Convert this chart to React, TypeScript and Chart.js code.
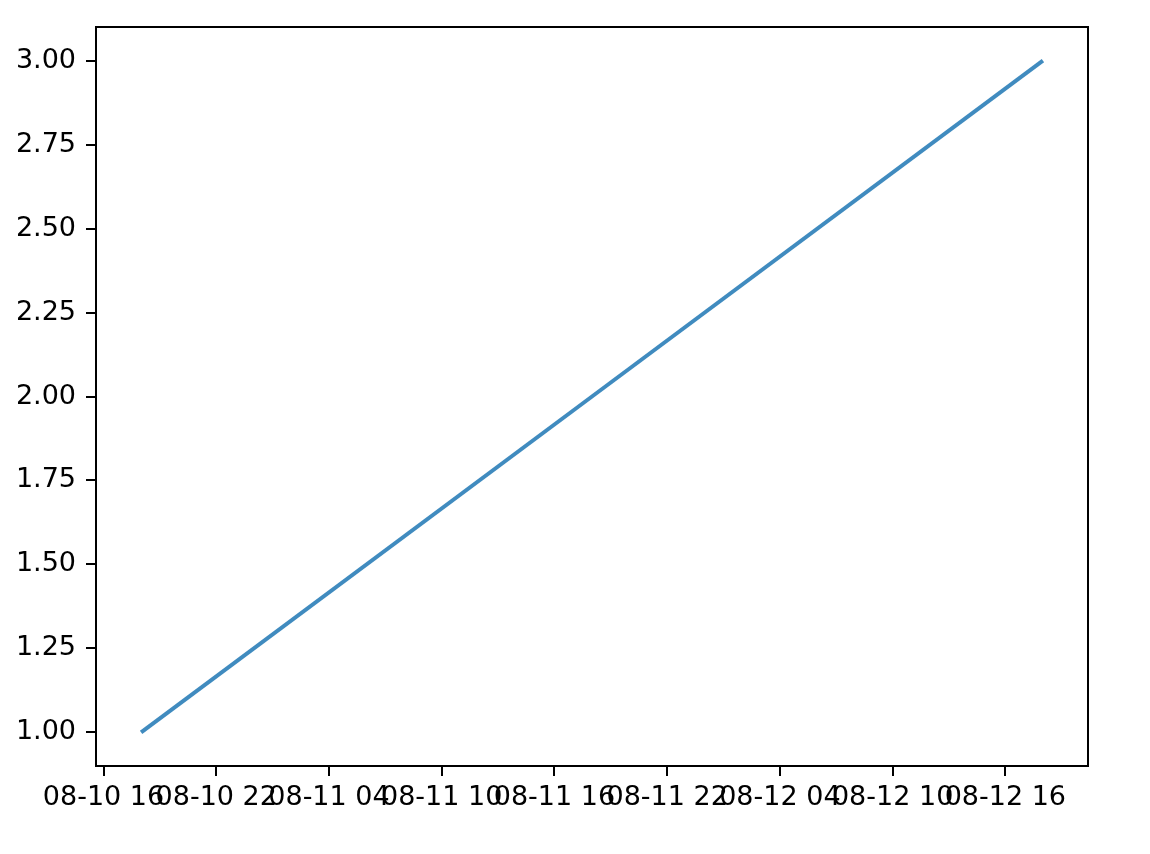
import React, { useEffect, useRef } from "react";
import { Chart, registerables } from "chart.js";

Chart.register(...registerables);

// Hours counted from 08-10 00:00
const pointHours = [18, 42, 66];
const seriesValues = [1, 2, 3];
const xTickHours = [16, 22, 28, 34, 40, 46, 52, 58, 64];
const xTickLabels = [
  "08-10 16",
  "08-10 22",
  "08-11 04",
  "08-11 10",
  "08-11 16",
  "08-11 22",
  "08-12 04",
  "08-12 10",
  "08-12 16",
];
const yTicks = [1.0, 1.25, 1.5, 1.75, 2.0, 2.25, 2.5, 2.75, 3.0];

const FONT = { family: "'DejaVu Sans', sans-serif", size: 27 };

const framePlugin = {
  id: "frame",
  afterDraw(chart: any) {
    const { ctx, chartArea } = chart;
    ctx.save();
    ctx.strokeStyle = "#000";
    ctx.lineWidth = 2;
    ctx.strokeRect(chartArea.left, chartArea.top, chartArea.right - chartArea.left, chartArea.bottom - chartArea.top);
    ctx.restore();
  },
};

export default function App() {
  const ref = useRef<HTMLCanvasElement>(null);
  useEffect(() => {
    const canvas = ref.current!;
    const chart = new Chart(canvas, {
      type: "line",
      data: {
        datasets: [
          {
            data: pointHours.map((h, i) => ({ x: h, y: seriesValues[i] })),
            borderColor: "rgba(31,119,180,0.85)",
            borderWidth: 4,
            pointRadius: 0,
            fill: false,
            tension: 0,
          },
        ],
      },
      options: {
        animation: false,
        responsive: false,
        devicePixelRatio: 1,
        layout: { padding: { top: 27, right: 62, left: 0, bottom: 0 } },
        plugins: { legend: { display: false }, tooltip: { enabled: false } },
        scales: {
          x: {
            type: "linear",
            min: 15.6,
            max: 68.4,
            afterBuildTicks: (scale: any) => {
              scale.ticks = xTickHours.map((v) => ({ value: v }));
            },
            afterFit: (scale: any) => {
              scale.height = 88;
            },
            ticks: {
              autoSkip: false,
              maxRotation: 0,
              minRotation: 0,
              color: "#000",
              font: FONT,
              padding: 6,
              callback: (_v: any, i: number) => xTickLabels[i],
            },
            grid: { drawOnChartArea: false, drawTicks: true, tickLength: 10, color: "#000", lineWidth: 2 },
            border: { display: false },
          },
          y: {
            type: "linear",
            min: 0.9,
            max: 3.1,
            afterBuildTicks: (scale: any) => {
              scale.ticks = yTicks.map((v) => ({ value: v }));
            },
            afterFit: (scale: any) => {
              scale.width = 96;
            },
            ticks: {
              color: "#000",
              font: FONT,
              padding: 10,
              callback: (v: any) => Number(v).toFixed(2),
            },
            grid: { drawOnChartArea: false, drawTicks: true, tickLength: 10, color: "#000", lineWidth: 2 },
            border: { display: false },
          },
        },
      },
      plugins: [framePlugin],
    } as any);
    return () => chart.destroy();
  }, []);
  return (
    <div style={{ position: "absolute", left: 0, top: 0, width: 1150, height: 854, background: "#fff" }}>
      <canvas ref={ref} width={1150} height={854} style={{ width: 1150, height: 854 }} />
    </div>
  );
}
